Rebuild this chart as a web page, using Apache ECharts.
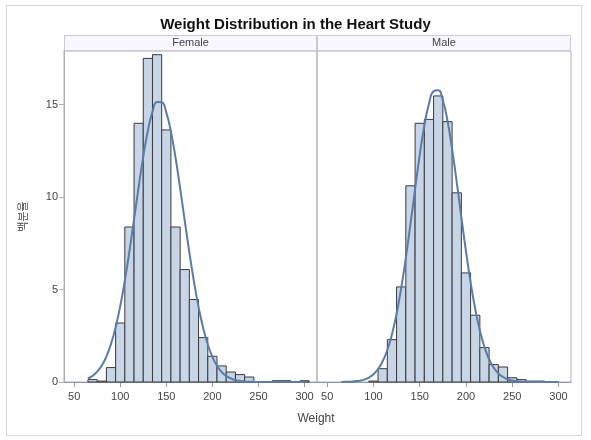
<!DOCTYPE html>
<html lang="ko">
<head>
    <meta charset="UTF-8">
    <title>Weight Distribution in the Heart Study</title>
    <script src="https://cdn.jsdelivr.net/npm/echarts@6/dist/echarts.min.js"></script>
    <style>
        html, body { margin: 0; padding: 0; background: #ffffff; }
        #main { width: 591px; height: 440px; }
    </style>
</head>
<body>
<div id="main"></div>
<script type="text/javascript">
    // 구간 중심 (bin width 10)
    var binCenters = [70, 80, 90, 100, 110, 120, 130, 140, 150, 160, 170, 180, 190, 200,
        210, 220, 230, 240, 250, 260, 270, 280, 290, 300];
    // 백분율 - Female
    var femalePct = [0.13, 0.05, 0.78, 3.19, 8.38, 13.99, 17.5, 17.7, 13.63, 8.38, 6.08, 4.46, 2.40, 1.39,
        0.87, 0.54, 0.40, 0.27, 0, 0, 0.07, 0.07, 0, 0.07];
    // 백분율 - Male
    var malePct = [0, 0, 0, 0.05, 0.72, 2.29, 5.14, 10.61, 13.99, 14.2, 15.47, 14.08, 10.23, 5.90,
        3.61, 1.86, 0.94, 0.81, 0.23, 0.13, 0.05, 0.05, 0, 0];

    // 정규 곡선
    var curveX = [65, 70, 75, 80, 85, 90, 95, 100, 105, 110, 115, 120, 125, 130, 135, 140, 145, 150,
        155, 160, 165, 170, 175, 180, 185, 190, 195, 200, 205, 210, 215, 220, 225, 230, 235, 240,
        245, 250, 255, 260, 265, 270, 275, 280, 285, 290, 295, 300];
    var femaleCurve = [0.19, 0.33, 0.56, 0.89, 1.38, 2.06, 2.96, 4.10, 5.49, 7.08, 8.80, 10.55, 12.19,
        13.59, 14.61, 15.14, 15.13, 14.57, 13.54, 12.13, 10.48, 8.73, 7.01, 5.43, 4.05, 2.92, 2.03,
        1.36, 0.88, 0.54, 0.33, 0.19, 0.11, 0.06, 0.03, 0.01, 0.01, 0, 0, 0, 0, 0, 0, 0, 0, 0, 0, 0];
    var maleCurve = [0, 0.01, 0.02, 0.04, 0.07, 0.13, 0.24, 0.42, 0.70, 1.12, 1.73, 2.58, 3.69, 5.08,
        6.72, 8.54, 10.44, 12.27, 13.86, 15.05, 15.72, 15.78, 15.23, 14.13, 12.61, 10.81, 8.92, 7.07,
        5.39, 3.95, 2.78, 1.88, 1.23, 0.77, 0.46, 0.27, 0.15, 0.08, 0.04, 0.02, 0.01, 0, 0, 0, 0, 0, 0, 0];

    var xTicks = [50, 100, 150, 200, 250, 300];
    var yTicks = [0, 5, 10, 15];
    var panels = ['Female', 'Male'];

    var binWidth = 10;
    var barFill = '#c8d5e6';
    var barEdge = '#3a3a3a';
    var curveColor = '#5b7ba8';
    var frameColor = '#b0b0b0';
    var labelColor = '#444444';
    var fontFamily = 'Liberation Sans, Arial, sans-serif';

    var myChart = echarts.init(document.getElementById('main'), null, {renderer: 'canvas'});

    function pairs(xs, ys) {
        var out = [];
        for (var i = 0; i < xs.length; i++) {
            out.push([xs[i], ys[i]]);
        }
        return out;
    }

    // 막대: 구간 폭 10 단위로 축 좌표에서 계산
    function renderBin(params, api) {
        var x = api.value(0);
        var y = api.value(1);
        if (!y) {
            return null;
        }
        var p0 = api.coord([x - binWidth / 2, y]);
        var p1 = api.coord([x + binWidth / 2, 0]);
        return {
            type: 'rect',
            shape: {x: p0[0], y: p0[1], width: p1[0] - p0[0], height: p1[1] - p0[1]},
            style: {fill: barFill, stroke: barEdge, lineWidth: 1}
        };
    }

    var grids = [
        {left: 64, right: 274, top: 51, bottom: 58, show: true, borderColor: frameColor, borderWidth: 1},
        {left: 317, right: 20, top: 51, bottom: 58, show: true, borderColor: frameColor, borderWidth: 1}
    ];

    var xAxes = [];
    var yAxes = [];
    for (var g = 0; g < 2; g++) {
        xAxes.push({
            type: 'value',
            gridIndex: g,
            min: 39,
            max: 313.5,
            axisLine: {show: true, onZero: false, lineStyle: {color: '#8f9aa8'}},
            axisTick: {show: true, length: 5, customValues: xTicks, lineStyle: {color: '#8f9aa8'}},
            axisLabel: {show: true, customValues: xTicks, margin: 9, color: labelColor, fontSize: 11, fontFamily: fontFamily},
            splitLine: {show: false}
        });
        yAxes.push({
            type: 'value',
            gridIndex: g,
            min: 0,
            max: 17.9,
            axisLine: {show: g === 0, lineStyle: {color: frameColor}},
            axisTick: {show: g === 0, length: 5, customValues: yTicks, lineStyle: {color: frameColor}},
            axisLabel: {show: g === 0, customValues: yTicks, margin: 6, color: labelColor, fontSize: 11, fontFamily: fontFamily},
            splitLine: {show: false},
            name: g === 0 ? '백분율' : '',
            nameLocation: 'middle',
            nameRotate: 90,
            nameGap: 36,
            nameTextStyle: {color: labelColor, fontSize: 11, fontFamily: 'Noto Sans CJK KR'}
        });
    }

    var series = [
        {type: 'custom', xAxisIndex: 0, yAxisIndex: 0, renderItem: renderBin, data: pairs(binCenters, femalePct), silent: true},
        {type: 'custom', xAxisIndex: 1, yAxisIndex: 1, renderItem: renderBin, data: pairs(binCenters, malePct), silent: true},
        {type: 'line', xAxisIndex: 0, yAxisIndex: 0, data: pairs(curveX, femaleCurve), smooth: true, showSymbol: false,
            lineStyle: {color: curveColor, width: 2}, silent: true},
        {type: 'line', xAxisIndex: 1, yAxisIndex: 1, data: pairs(curveX, maleCurve), smooth: true, showSymbol: false,
            lineStyle: {color: curveColor, width: 2}, silent: true}
    ];

    // 바깥 테두리, 패널 머리글, x축 제목
    var graphics = [
        {type: 'rect', shape: {x: 6.5, y: 5.5, width: 575, height: 430}, style: {fill: 'none', stroke: '#d3d6db', lineWidth: 1}, silent: true}
    ];
    var headerX = [64, 317];
    var headerW = [253, 254];
    for (var h = 0; h < panels.length; h++) {
        graphics.push({
            type: 'rect',
            shape: {x: headerX[h] + 0.5, y: 35.5, width: headerW[h] - 1, height: 15},
            style: {fill: '#f6f8fd', stroke: '#c9cbd0', lineWidth: 1},
            silent: true
        });
        graphics.push({
            type: 'text',
            x: headerX[h] + headerW[h] / 2,
            y: 43,
            style: {text: panels[h], fill: labelColor, font: '11px ' + fontFamily, align: 'center', verticalAlign: 'middle'},
            silent: true
        });
    }
    graphics.push({
        type: 'text',
        x: 316,
        y: 419,
        style: {text: 'Weight', fill: labelColor, font: '12px ' + fontFamily, align: 'center', verticalAlign: 'middle'},
        silent: true
    });

    myChart.setOption({
        animation: false,
        title: {
            text: 'Weight Distribution in the Heart Study',
            left: 'center',
            top: 12,
            textStyle: {color: '#111111', fontSize: 15, fontWeight: 'bold', fontFamily: fontFamily}
        },
        grid: grids,
        xAxis: xAxes,
        yAxis: yAxes,
        series: series,
        graphic: graphics
    });

    window.addEventListener("resize", function () {
        myChart.resize();
    });
</script>
</body>
</html>
